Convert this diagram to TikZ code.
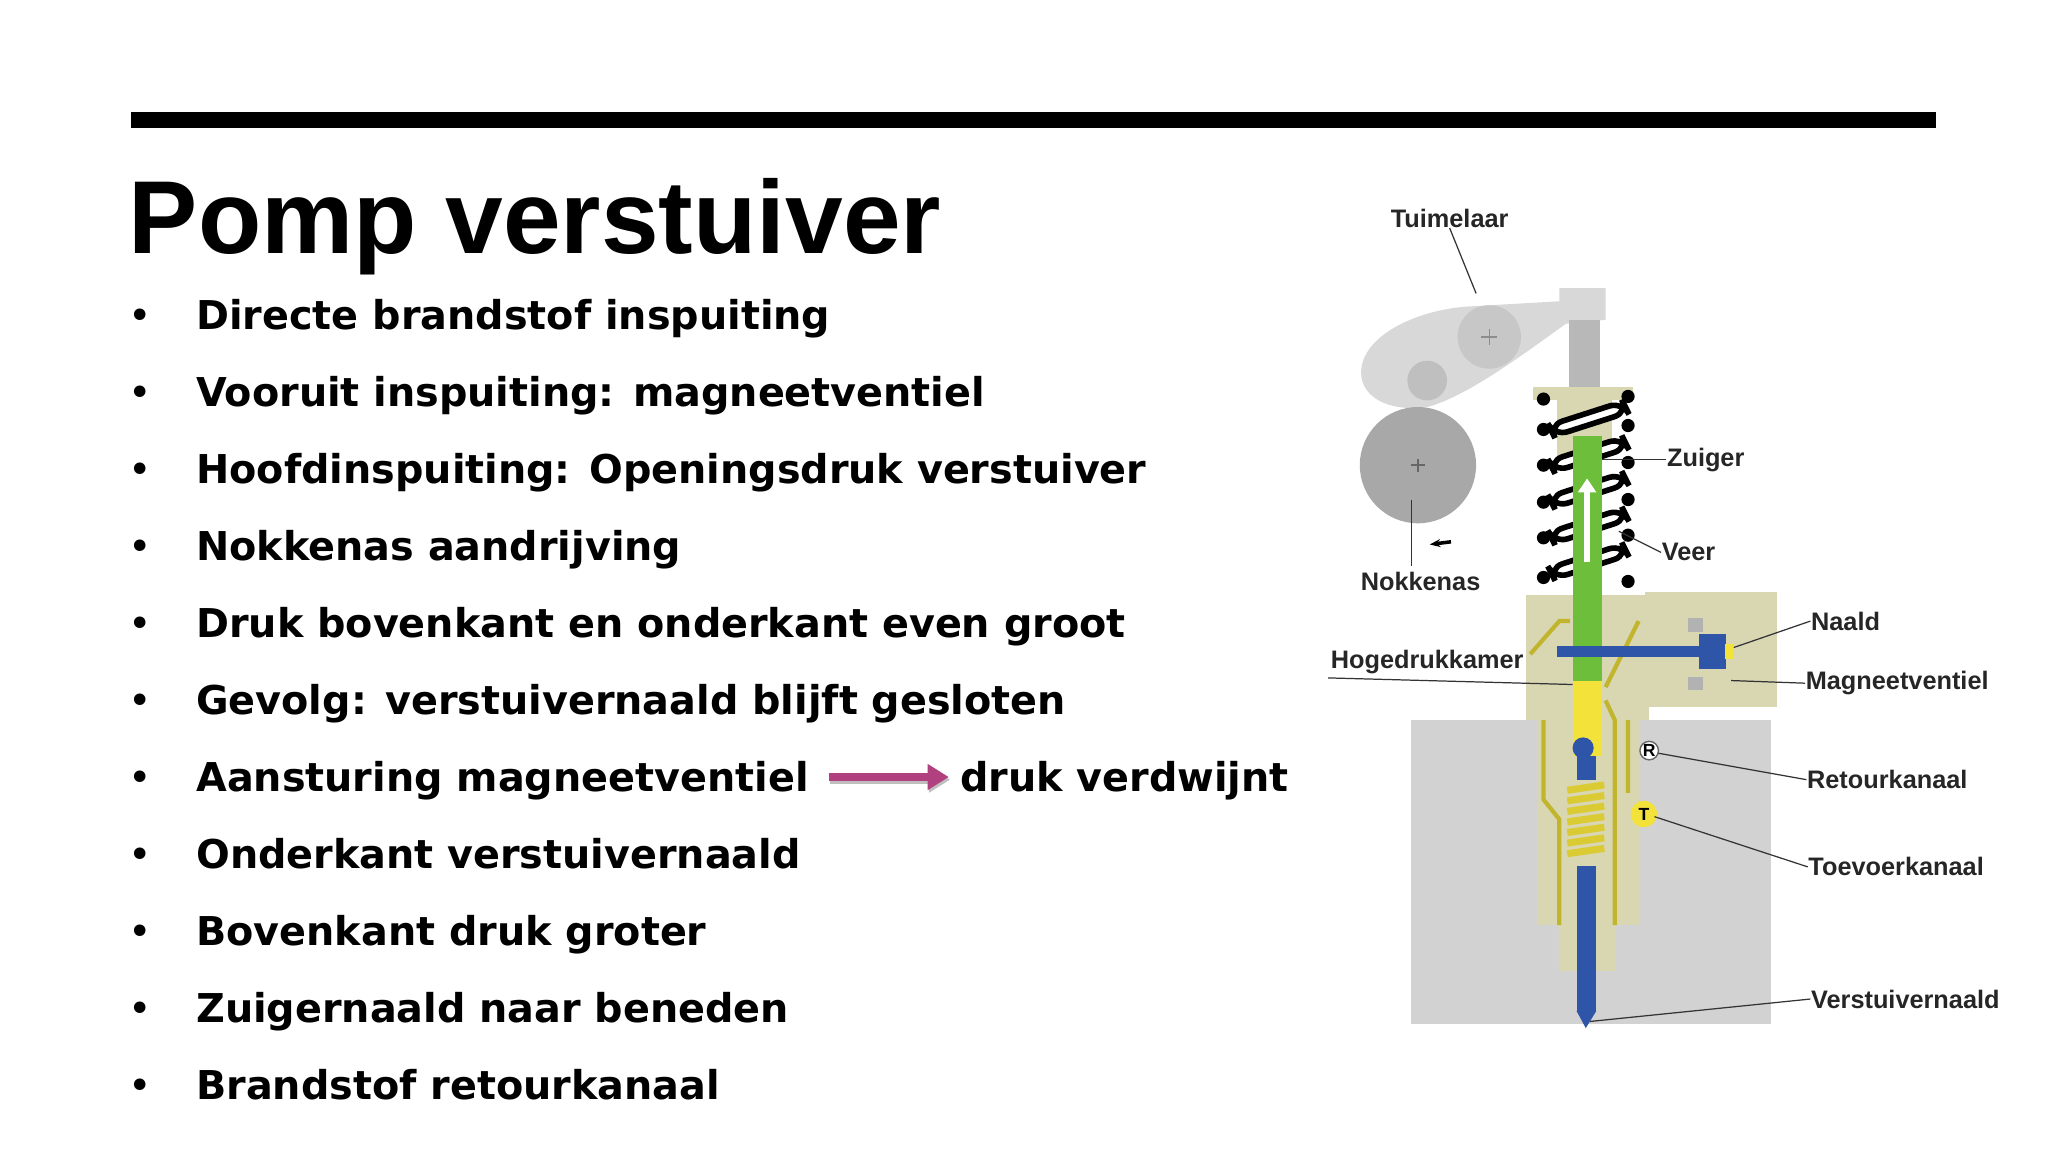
\documentclass[tikz,border=0pt]{standalone}
\usepackage{fontspec}
\setmainfont{Liberation Sans}
\newfontfamily\bul{DejaVu Sans}
\usetikzlibrary{arrows.meta}
\definecolor{khaki}{HTML}{D9D6B2}
\definecolor{gblock}{HTML}{D2D2D2}
\definecolor{cam}{HTML}{A8A8A8}
\definecolor{rock}{HTML}{D8D8D8}
\definecolor{gre}{HTML}{6DBE3A}
\definecolor{yel}{HTML}{F2E23A}
\definecolor{blu}{HTML}{2E55A8}
\definecolor{arr}{HTML}{B0407E}
\tikzset{
 bl/.style={anchor=base west,font=\bul\bfseries\fontsize{11.3pt}{13pt}\selectfont,inner sep=0},
 dot/.style={anchor=base west,font=\bul\fontsize{11.3pt}{13pt}\selectfont,inner sep=0},
 lab/.style={font=\bfseries\fontsize{7.2pt}{8pt}\selectfont,inner sep=0,text=black!85},
 lead/.style={draw=black!80,line width=0.35pt},
}
\begin{document}
\begin{tikzpicture}[x=0.13215mm,y=-0.13215mm]
\useasboundingbox (0,0) rectangle (1549.8,871.7);
\fill[white] (0,0) rectangle (1549.8,871.7);
\fill[black] (99,85) rectangle (1465,97);
\node[anchor=base west,inner sep=0,font=\bfseries\fontsize{29.5pt}{34pt}\selectfont] (title) at (97,192) {Pomp verstuiver};
\foreach \t [count=\i] in {Directe brandstof inspuiting,Vooruit inspuiting: magneetventiel,Hoofdinspuiting: Openingsdruk verstuiver,Nokkenas aandrijving,Druk bovenkant en onderkant even groot,Gevolg: verstuivernaald blijft gesloten,Aansturing magneetventiel,Onderkant verstuivernaald,Bovenkant druk groter,Zuigernaald naar beneden,Brandstof retourkanaal}{
 \node[dot] (d\i) at (97,{249+58.3*(\i-1)}) {•};
 \node[bl] (b\i) at (148,{249+58.3*(\i-1)}) {\t};
}
\node[bl] (dv) at (726,{249+58.3*6}) {druk verdwijnt};
\coordinate (a1) at (627,588); \coordinate (a2) at (718,588);
\draw[black!25,line width=2.5pt,-{Triangle[length=6pt,width=7pt]}] ([shift={(1,2)}]a1) -- ([shift={(1,2)}]a2);
\draw[arr,line width=2.5pt,-{Triangle[length=6pt,width=7pt]}] (a1) -- (a2);
% ---- diagram ----
\fill[gblock] (1068,545) rectangle (1340,775);
% rocker
\fill[rock] (1030,282) .. controls (1030,255) and (1070,235) .. (1110,232) -- (1180,228) -- (1180,218) -- (1215,218) -- (1215,242) -- (1185,245) .. controls (1150,270) and (1110,300) .. (1080,308) .. controls (1050,312) and (1030,300) .. (1030,282) -- cycle;
\fill[black!22] (1127,255) circle (24);
\fill[black!25] (1080,288) circle (15);
\draw[black!45,line width=0.4pt] (1121,255)--(1133,255) (1127,249)--(1127,261);
\fill[black!28] (1187,242) rectangle (1211,330);
% cam
\fill[cam] (1073,352) circle (44);
\fill[cam] (1040,330) -- (1060,310) -- (1070,340) -- cycle;
\draw[black!60,line width=0.4pt] (1068,352)--(1078,352) (1073,347)--(1073,357);
\draw[black,line width=1pt,-{Stealth[length=3pt]}] (1098,410) -- (1082,412);
% body
\fill[khaki] (1160,293) rectangle (1236,303);
\fill[khaki] (1178,303) rectangle (1220,345);
\fill[khaki] (1155,450) rectangle (1248,545);
\fill[khaki] (1245,448) rectangle (1345,535);
\fill[khaki] (1163,545) rectangle (1240,700);
\fill[khaki] (1180,700) rectangle (1222,735);
\foreach \yy in {318,345,372,399,426}{
 \draw[black,line width=1.6pt,fill=white,rounded corners=4] (1172,\yy+4) -- (1228,\yy-14) -- (1232,\yy-6) -- (1176,\yy+12) -- cycle;
}
\foreach \yy in {302,325,352,380,407,437}{\fill[black] (1168,\yy) circle (5);}
\foreach \yy in {300,322,350,378,405,440}{\fill[black] (1232,\yy) circle (5);}
\fill[black!30] (1277,468) rectangle (1289,478);
\fill[black!30] (1277,512) rectangle (1289,522);
\fill[gre] (1190,330) rectangle (1212,515);
\draw[white,line width=1.6pt,-{Triangle[length=4pt,width=5pt]}] (1201,425) -- (1201,362);
\fill[yel] (1190,515) rectangle (1212,572);
\draw[yel!80!black,line width=1.2pt] (1168,545) -- (1168,605) -- (1180,620) -- (1180,700) (1232,545) -- (1232,600) (1215,520) -- (1240,470) (1215,530) -- (1222,545) -- (1222,700) (1158,495) -- (1180,470) -- (1188,470);
\fill[blu] (1178,489) rectangle (1300,497);
\fill[blu] (1286,480) rectangle (1306,506);
\fill[yel] (1305,487) rectangle (1312,499);
\fill[blu] (1193,572) rectangle (1208,590);
\fill[blu] (1198,566) circle (8);
\foreach \yy in {598,606,...,646}{\draw[yel!90!black,line width=2pt] (1186,\yy) -- (1214,\yy-4);}
\fill[blu] (1193,655) rectangle (1208,765);
\fill[blu] (1193,765) -- (1208,765) -- (1200,778) -- cycle;
\fill[white] (1248,568) circle (7); \draw[black!60,line width=0.4pt] (1248,568) circle (7);
\fill[yel] (1244,616) circle (10);
\node[font=\bfseries\fontsize{5pt}{5pt}\selectfont,inner sep=0] (rr) at (1248,568) {R};
\node[font=\bfseries\fontsize{5pt}{5pt}\selectfont,inner sep=0] (tt) at (1244,616) {T};
% labels
\node[lab] (tuim) at (1097,165) {Tuimelaar};
\node[lab,anchor=west] (zui) at (1261,348) {Zuiger};
\node[lab,anchor=west] (veer) at (1257,418) {Veer};
\node[lab] (nok) at (1075,440) {Nokkenas};
\node[lab,anchor=west] (naald) at (1370,470) {Naald};
\node[lab] (hog) at (1080,501) {Hogedrukkamer};
\node[lab,anchor=west] (mag) at (1366,517) {Magneetventiel};
\node[lab,anchor=west] (ret) at (1367,590) {Retourkanaal};
\node[lab,anchor=west] (toe) at (1368,656) {Toevoerkanaal};
\node[lab,anchor=west] (ver) at (1370,756) {Verstuivernaald};
\coordinate (pt1) at (1117,222); \coordinate (pz) at (1212,348); \coordinate (pv) at (1225,402);
\coordinate (pn) at (1068,378); \coordinate (pn0) at (1068,428); \coordinate (pna) at (1312,490); \coordinate (pm) at (1310,515);
\coordinate (ph0) at (1005,513); \coordinate (ph) at (1190,518); \coordinate (pr) at (1255,570);
\coordinate (pt) at (1252,618); \coordinate (pvn) at (1203,773);
\draw[lead] (tuim.south) -- (pt1);
\draw[lead] (zui.west) -- (pz);
\draw[lead] (veer.west) -- (pv);
\draw[lead] (pn0) -- (pn);
\draw[lead] (naald.west) -- (pna);
\draw[lead] (mag.west) -- (pm);
\draw[lead] (ph0) -- (ph);
\draw[lead] (ret.west) -- (pr);
\draw[lead] (toe.west) -- (pt);
\draw[lead] (ver.west) -- (pvn);
\end{tikzpicture}
\end{document}
